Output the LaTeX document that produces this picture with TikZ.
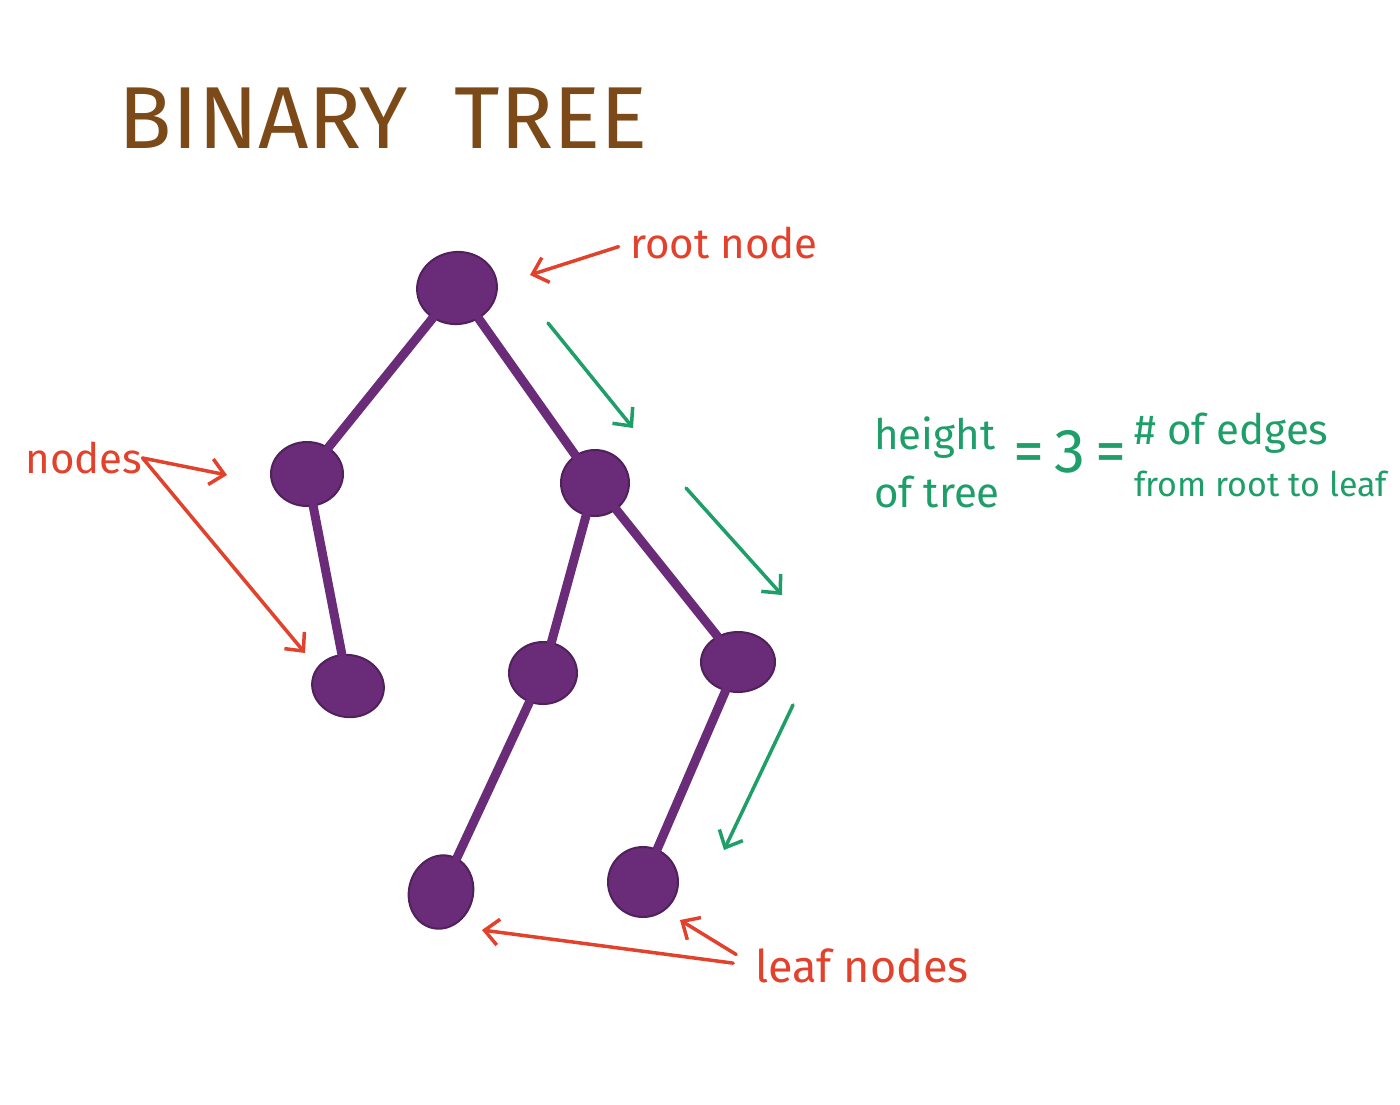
\documentclass[tikz,border=0pt]{standalone}
\usepackage{fontspec}
\setmainfont{Fira Sans}
\usetikzlibrary{arrows.meta,shapes.geometric}
\definecolor{treepurple}{HTML}{6A2C78}
\definecolor{titlebrown}{HTML}{7B4A18}
\definecolor{notered}{HTML}{E2412B}
\definecolor{notegreen}{HTML}{1E9E68}
\tikzset{
  vertex/.style={ellipse, fill=treepurple, draw=treepurple!75!black, line width=2pt, inner sep=0pt},
  branch/.style={treepurple, line width=9pt, line cap=round},
  redarrow/.style={notered, line width=3.5pt, line cap=round, -{Straight Barb[length=14pt,width=26pt]}},
  greenarrow/.style={notegreen, line width=3.5pt, line cap=round, -{Straight Barb[length=14pt,width=26pt]}},
  redtext/.style={notered, inner sep=0pt, font=\fontsize{42}{46}\selectfont},
  greentext/.style={notegreen, inner sep=0pt, align=left}
}
\begin{document}
\begin{tikzpicture}[x=1pt, y=-1pt]
\useasboundingbox[fill=white] (0,0) rectangle (1400,1104);
% title
\node[titlebrown, inner sep=0pt, font=\fontsize{88}{90}\selectfont] (title) at (383,118) {BINARY\ \ TREE};
% tree nodes
\node[vertex, minimum width=80pt, minimum height=72pt, rotate=8] (root) at (457,288) {};
\node[vertex, minimum width=72pt, minimum height=64pt] (left) at (307,474) {};
\node[vertex, minimum width=68pt, minimum height=66pt] (right) at (595,483) {};
\node[vertex, minimum width=72pt, minimum height=62pt, rotate=-10] (leftleaf) at (348,686) {};
\node[vertex, minimum width=68pt, minimum height=62pt] (midnode) at (543,673) {};
\node[vertex, minimum width=74pt, minimum height=60pt] (farnode) at (738,662) {};
\node[vertex, minimum width=64pt, minimum height=74pt, rotate=-15] (leafa) at (441,892) {};
\node[vertex, minimum width=70pt, minimum height=70pt] (leafb) at (643,882) {};
% edges
\foreach \a/\b in {root/left, root/right, left/leftleaf, right/midnode, right/farnode, midnode/leafa, farnode/leafb}
  \draw[branch] (\a) -- (\b);
% red labels
\node[redtext, anchor=west] (rootlbl) at (630,243) {root node};
\coordinate (roothead) at (530,275);
\draw[redarrow, shorten <=12pt] (rootlbl.west) -- (roothead);
\node[redtext] (nodeslbl) at (84,458) {nodes};
\coordinate (nodehead) at (227,475);
\coordinate (leafhead) at (305,653);
\draw[redarrow] (nodeslbl.east) -- (nodehead);
\draw[redarrow] (nodeslbl.east) -- (leafhead);
\node[redtext, anchor=west, font=\fontsize{45}{50}\selectfont] (leaflbl) at (755,966) {leaf nodes};
\coordinate (leftleafhead) at (482,930);
\coordinate (rightleafhead) at (680,920);
\draw[redarrow, shorten <=22pt] (leaflbl.west) -- (leftleafhead);
\draw[redarrow, shorten <=22pt] (leaflbl.west) -- (rightleafhead);
% green height arrows
\coordinate (ga1) at (548,323); \coordinate (gb1) at (633,428);
\coordinate (ga2) at (686,488); \coordinate (gb2) at (782,595);
\coordinate (ga3) at (793,705); \coordinate (gb3) at (724,850);
\foreach \i in {1,2,3}
  \draw[greenarrow] (ga\i) -- (gb\i);
% green note
\node[greentext, anchor=west, font=\fontsize{42}{58}\selectfont] (heightlbl) at (874,462) {height\\of tree};
\node[greentext, font=\fontsize{62}{70}\selectfont] (eqlbl) at (1070,452) {=\,3\,=};
\node[greentext, anchor=west, font=\fontsize{34}{52}\selectfont] (edgelbl) at (1134,455) {{\fontsize{42}{52}\selectfont\# of edges}\\from root to leaf};
\end{tikzpicture}
\end{document}
